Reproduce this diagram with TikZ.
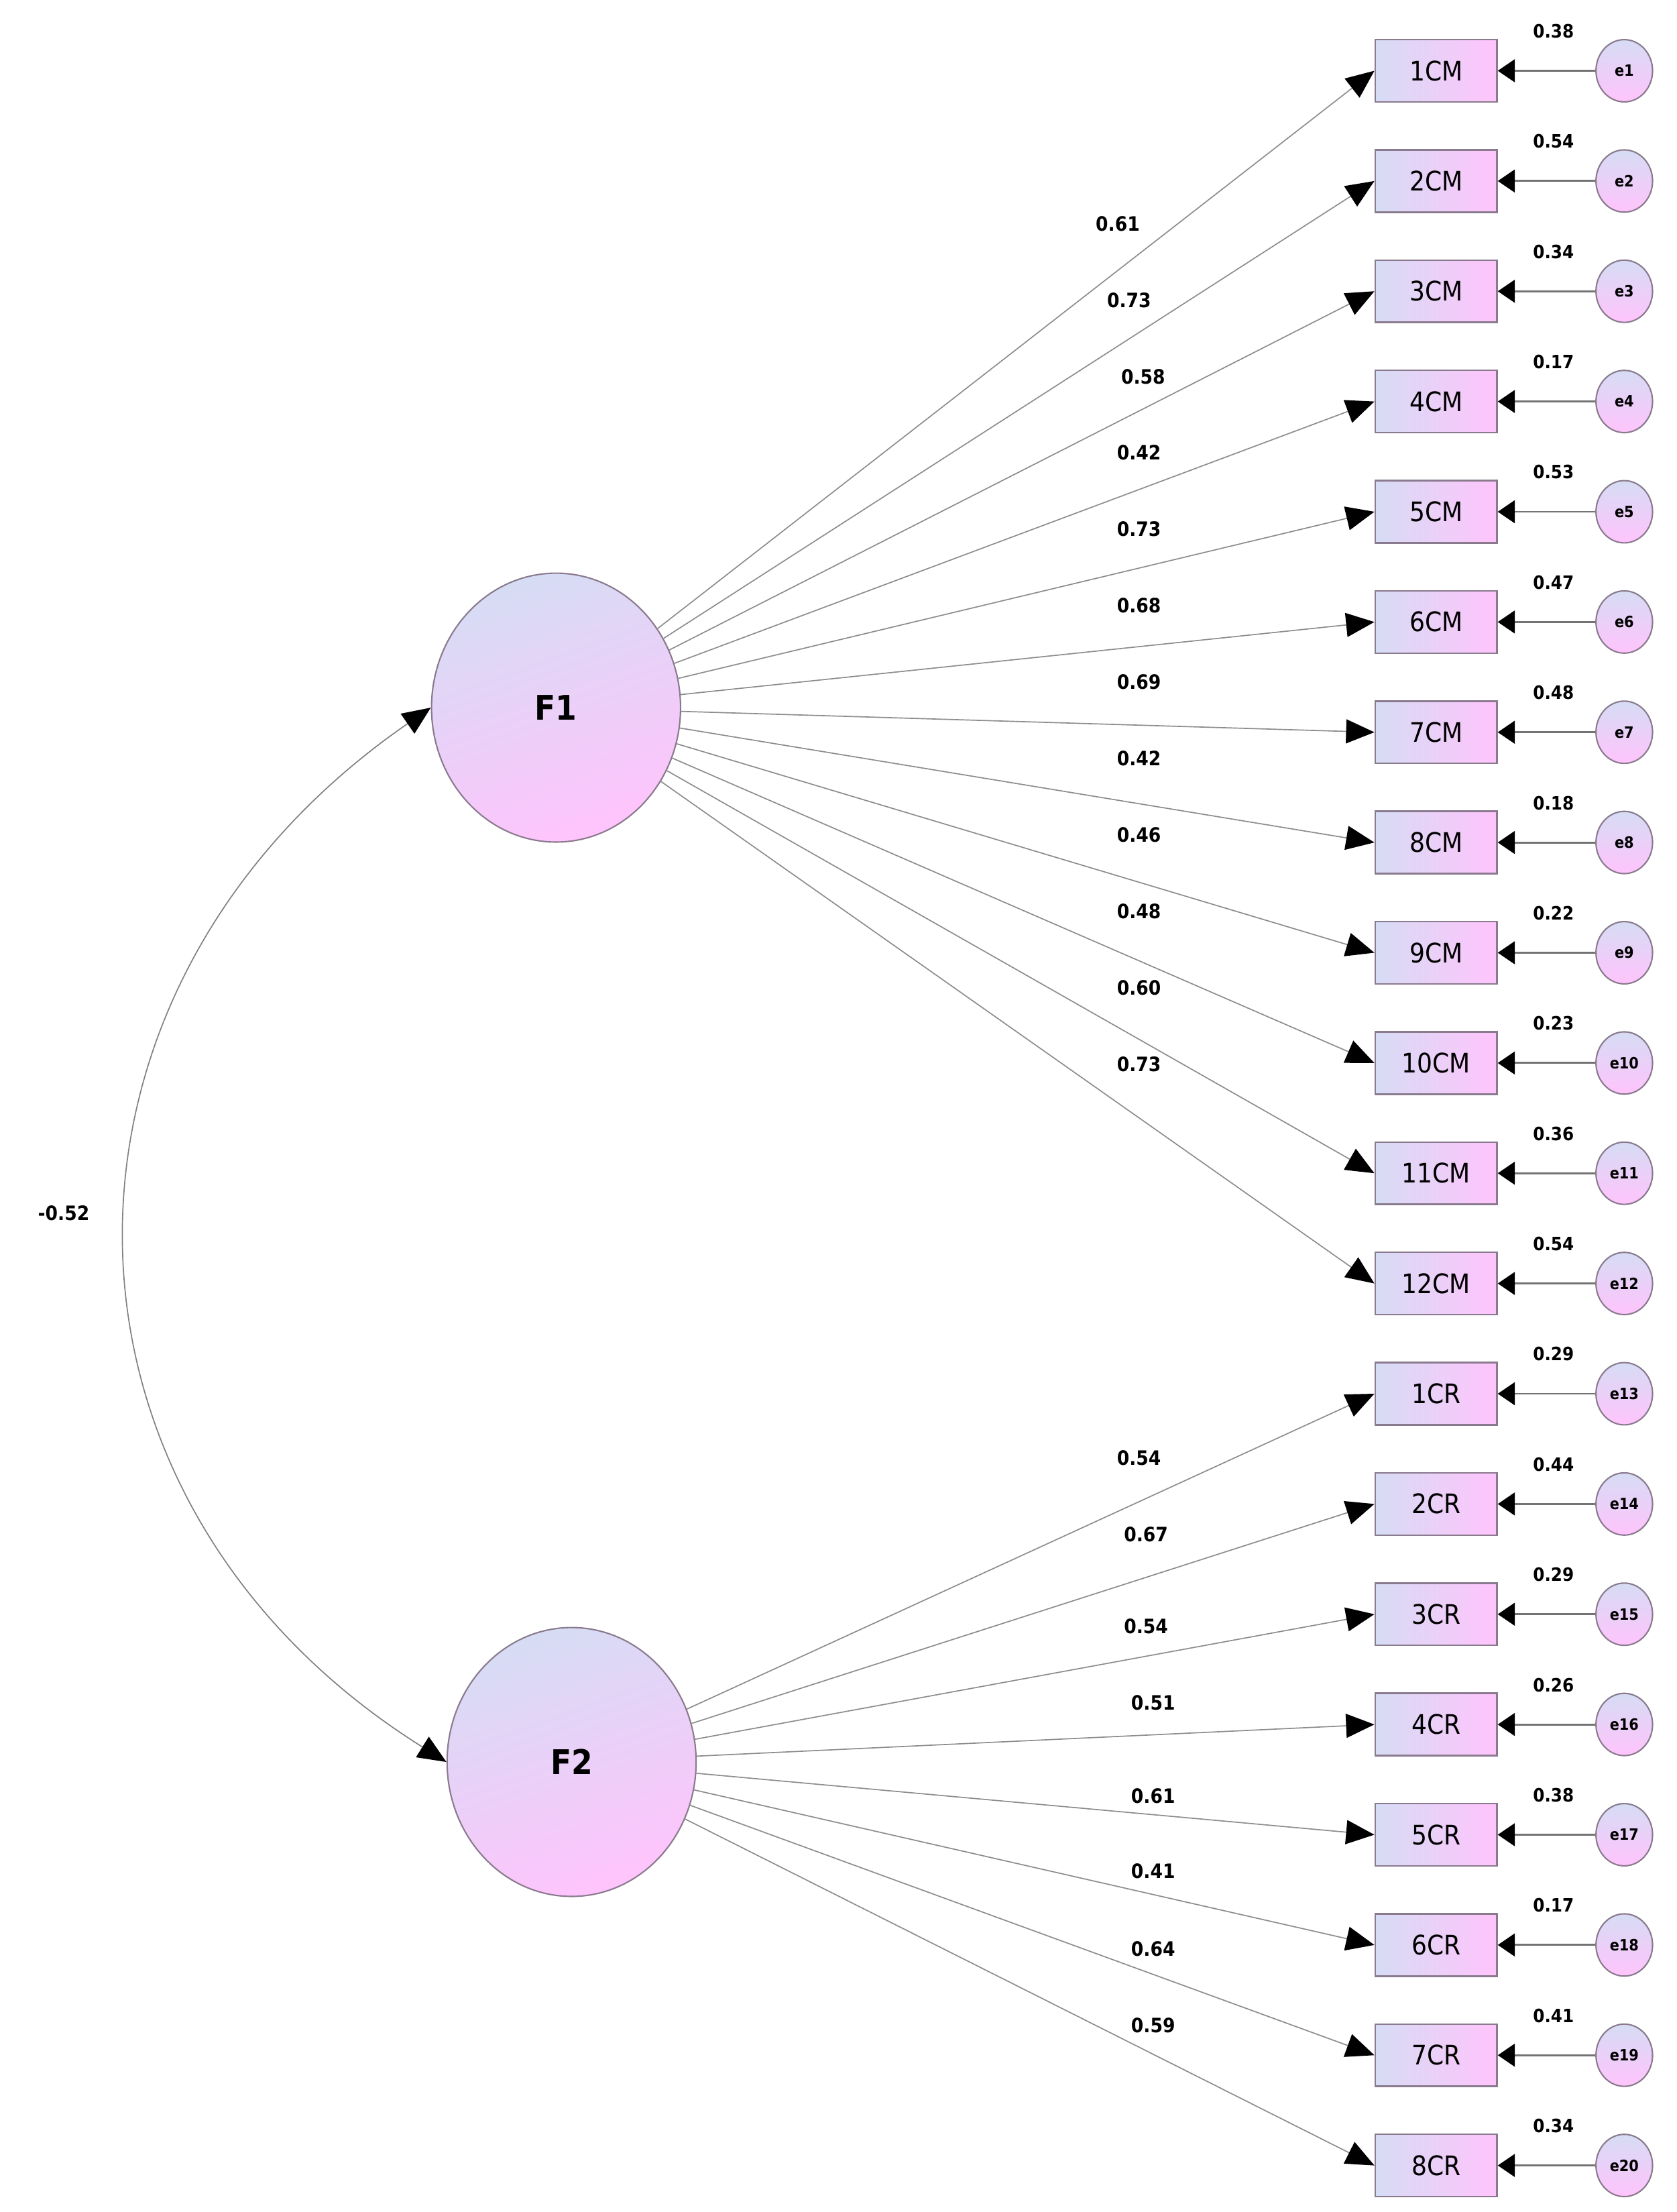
\documentclass[tikz,border=0pt]{standalone}
\usepackage{fontspec}
\setmainfont{DejaVu Sans Condensed}
\usetikzlibrary{arrows.meta,shapes.geometric}
\definecolor{cA}{HTML}{D6DCF4}
\definecolor{cB}{HTML}{FFC4FC}
\definecolor{brd}{HTML}{8A7A8E}
\begin{document}
\begin{tikzpicture}[x=1pt,y=-1pt,
  obs/.style={draw=brd,line width=1.2pt,left color=cA,right color=cB,minimum width=86pt,minimum height=44pt,inner sep=0pt,font=\fontsize{19}{19}\selectfont},
  err/.style={ellipse,draw=brd,line width=1pt,shading=axis,top color=cA,bottom color=cB,minimum width=40pt,minimum height=44pt,inner sep=0pt,font=\bfseries\fontsize{11}{11}\selectfont},
  lat/.style={ellipse,draw=brd,line width=1pt,shading=axis,top color=cA,bottom color=cB,shading angle=20,minimum width=176pt,minimum height=190pt,font=\bfseries\fontsize{24}{24}\selectfont},
  ld/.style={draw=black!45,line width=0.8pt,-{Triangle[length=20pt,width=17pt,color=black,fill=black]}},
  ea/.style={draw=black!55,line width=1.4pt,-{Triangle[length=12pt,width=16pt,color=black,fill=black]}},
  lab/.style={font=\bfseries\fontsize{14}{14}\selectfont},
  elab/.style={font=\bfseries\fontsize{13}{13}\selectfont}]
\useasboundingbox (0,0) rectangle (1185,1563);
\node[lat] (F1) at (393,500) {F1};
\node[lat] (F2) at (404,1245) {F2};
\foreach \i/\t/\l/\el/\ex [count=\k from 0] in {
 1/1CM/0.61/0.38/790, 2/2CM/0.73/0.54/798, 3/3CM/0.58/0.34/808, 4/4CM/0.42/0.17/805,
 5/5CM/0.73/0.53/805, 6/6CM/0.68/0.47/805, 7/7CM/0.69/0.48/805, 8/8CM/0.42/0.18/805,
 9/9CM/0.46/0.22/805, 10/10CM/0.48/0.23/805, 11/11CM/0.60/0.36/805, 12/12CM/0.73/0.54/805}{
  \pgfmathsetmacro\yy{50+77.9*\k}
  \pgfmathsetmacro\ly{158+54*\k}
  \node[obs] (o\i) at (1015,\yy) {\t};
  \node[err] (e\i) at (1148,\yy) {e\i};
  \draw[ea] (e\i) -- (o\i);
  \node[elab] (el\i) at (1098,\yy-28) {\el};
  \draw[ld] (F1) -- (o\i.west);
  \node[lab] (ll\i) at (\ex,\ly) {\l};
}
\foreach \i/\t/\l/\el/\ex/\ly [count=\k from 12] in {
 13/1CR/0.54/0.29/805/1030, 14/2CR/0.67/0.44/810/1084, 15/3CR/0.54/0.29/810/1149,
 16/4CR/0.51/0.26/815/1203, 17/5CR/0.61/0.38/815/1269, 18/6CR/0.41/0.17/815/1322,
 19/7CR/0.64/0.41/815/1377, 20/8CR/0.59/0.34/815/1431}{
  \pgfmathsetmacro\yy{50+77.9*\k}
  \node[obs] (o\i) at (1015,\yy) {\t};
  \node[err] (e\i) at (1148,\yy) {e\i};
  \draw[ea] (e\i) -- (o\i);
  \node[elab] (el\i) at (1098,\yy-28) {\el};
  \draw[ld] (F2) -- (o\i.west);
  \node[lab] (ll\i) at (\ex,\ly) {\l};
}
\draw[draw=black!50,line width=0.8pt,{Triangle[length=20pt,width=17pt,color=black,fill=black]}-{Triangle[length=20pt,width=17pt,color=black,fill=black]}]
  (F1.west) .. controls (15,700) and (20,1060) .. (F2.west);
\node[lab] (cov) at (45,857) {-0.52};
\end{tikzpicture}
\end{document}
